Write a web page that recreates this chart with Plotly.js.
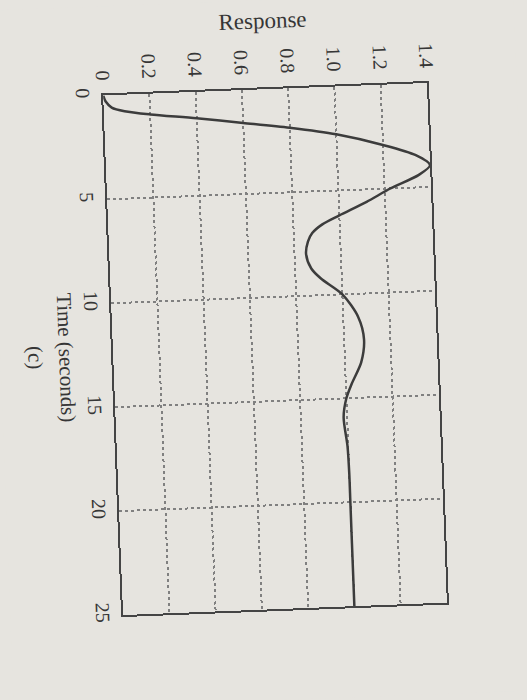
<!DOCTYPE html>
<html>
<head>
<meta charset="utf-8">
<script src="https://cdn.plot.ly/plotly-3.0.1.min.js"></script>
<style>
  html, body { margin: 0; padding: 0; background: #e6e4df; overflow: hidden; }
  #chart { width: 527px; height: 700px; transform: rotate(-2.2deg); transform-origin: 275px 349px; }
</style>
</head>
<body>
<div id="chart"></div>
<script>
// Step response read from the (rotated) figure
var timeSeconds = [0, 0.3, 0.6, 0.8, 1.0, 1.27, 1.58, 1.9, 2.3, 2.9, 3.45, 3.95, 4.4, 5.0, 5.6, 6.2, 6.6, 7.0, 7.4, 8.0, 8.7, 9.2, 10.0, 11.1, 12.2, 13.3, 14.3, 15.0, 15.9, 17.3, 18.6, 20.0, 22.0, 25.0];
var responseValues = [0, 0.01, 0.035, 0.09, 0.2, 0.4, 0.6, 0.8, 1.0, 1.2, 1.34, 1.4, 1.35, 1.225, 1.12, 1.0, 0.925, 0.88, 0.86, 0.85, 0.87, 0.91, 1.0, 1.064, 1.086, 1.07, 1.026, 1.0, 0.985, 0.997, 1.0, 1.0, 1.0, 1.0];

var responseTicks = [0, 0.2, 0.4, 0.6, 0.8, 1.0, 1.2, 1.4];
var responseTickText = ["0", "0.2", "0.4", "0.6", "0.8", "1.0", "1.2", "1.4"];
var timeTicks = [0, 5, 10, 15, 20, 25];
var timeTickText = ["0", "5", "10", "15", "20", "25"];

var FONT = "Liberation Serif, Times New Roman, serif";
var INK = "#363636";

var trace = {
  x: responseValues,
  y: timeSeconds,
  type: "scatter",
  mode: "lines",
  line: { color: "#3c3c3c", width: 2.5, shape: "spline", smoothing: 0.8 },
  hoverinfo: "skip",
  showlegend: false
};

var layout = {
  width: 527,
  height: 700,
  margin: { l: 113, r: 90, t: 89, b: 91 },
  paper_bgcolor: "#e6e4df",
  plot_bgcolor: "#e6e4df",
  font: { family: FONT, size: 20, color: INK },
  xaxis: {
    side: "top",
    range: [0, 1.4],
    tickvals: responseTicks,
    ticktext: responseTickText,
    tickangle: 90,
    ticks: "",
    ticklabelstandoff: 6,
    showgrid: true,
    gridcolor: "#808080",
    gridwidth: 2,
    griddash: "dot",
    zeroline: false,
    showline: true,
    mirror: true,
    linecolor: "#454545",
    linewidth: 2,
    tickfont: { family: FONT, size: 20, color: INK },
    fixedrange: true
  },
  yaxis: {
    side: "left",
    range: [25, 0],
    tickvals: timeTicks,
    ticktext: timeTickText,
    tickangle: 90,
    ticks: "",
    ticklabelstandoff: 1,
    showgrid: true,
    gridcolor: "#808080",
    gridwidth: 2,
    griddash: "dot",
    zeroline: false,
    showline: true,
    mirror: true,
    linecolor: "#454545",
    linewidth: 2,
    tickfont: { family: FONT, size: 20, color: INK },
    fixedrange: true
  },
  annotations: [
    { text: "Response", xref: "paper", yref: "paper", x: 0.5, y: 1.131,
      xanchor: "center", yanchor: "middle", showarrow: false,
      font: { family: FONT, size: 23, color: INK } },
    { text: "Time (seconds)", xref: "paper", yref: "paper", x: -0.145, y: 0.5,
      xanchor: "center", yanchor: "middle", textangle: 90, showarrow: false,
      font: { family: FONT, size: 21, color: INK } },
    { text: "(c)", xref: "paper", yref: "paper", x: -0.24, y: 0.502,
      xanchor: "center", yanchor: "middle", textangle: 90, showarrow: false,
      font: { family: FONT, size: 21, color: INK } }
  ]
};

Plotly.newPlot("chart", [trace], layout, { displayModeBar: false, staticPlot: true });
</script>
</body>
</html>
